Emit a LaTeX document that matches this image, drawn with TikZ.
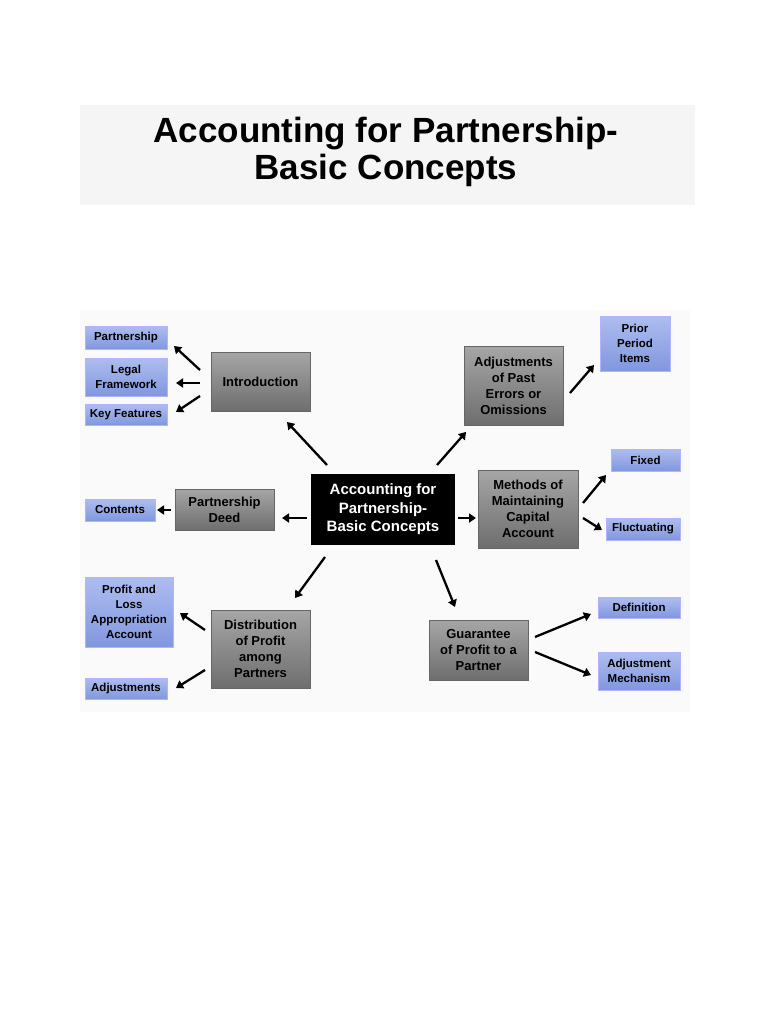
\documentclass[tikz,border=0pt]{standalone}
\usepackage{fontspec}
\setmainfont{Liberation Sans}
\usetikzlibrary{arrows.meta}
\definecolor{gtop}{HTML}{A6A6A6}
\definecolor{gbot}{HTML}{6E6E6E}
\definecolor{btop}{HTML}{AEBDF0}
\definecolor{bbot}{HTML}{8197DE}
\tikzset{
 gbox/.style={draw=gray!80!black,top color=gtop,bottom color=gbot,font=\bfseries\fontsize{13}{16}\selectfont,align=center,inner sep=0pt},
 bbox/.style={draw=blue!30,top color=btop,bottom color=bbot,font=\bfseries\fontsize{11.5}{15}\selectfont,align=center,inner sep=0pt},
 arr/.style={line width=2.3pt,-{Triangle[length=7pt,width=9pt]}},
}
\newcommand{\bx}[7]{\node[#1,minimum width=#4pt-#2pt,minimum height=#5pt-#3pt] (#6) at ({(#2+#4)/2},{(#3+#5)/2}) {#7};}
\begin{document}
\begin{tikzpicture}[x=1pt,y=-1pt]
\useasboundingbox[fill=white] (0,0) rectangle (768,1024);
\fill[black!4] (80,105) rectangle (695,205);
\fill[black!2] (80,310) rectangle (690,712);
\node[font=\bfseries\fontsize{35}{37}\selectfont,align=center] (title) at (386,152) {Accounting for Partnership-\\Basic Concepts};
\bx{bbox}{85}{326}{167}{349}{p1}{Partnership}
\bx{bbox}{85}{358}{167}{396}{p2}{Legal\\Framework}
\bx{bbox}{85}{404}{167}{425}{p3}{Key Features}
\bx{gbox}{211}{352}{310}{411}{intro}{Introduction}
\bx{bbox}{85}{499}{155}{521}{cont}{Contents}
\bx{gbox}{175}{489}{274}{530}{deed}{Partnership\\Deed}
\node[fill=black,text=white,font=\bfseries\fontsize{15}{18.5}\selectfont,align=center,minimum width=144pt,minimum height=71pt,inner sep=0pt] (c) at (383,509.5) {Accounting for\\Partnership-\\Basic Concepts};
\bx{gbox}{464}{346}{563}{425}{adj}{Adjustments\\of Past\\Errors or\\Omissions}
\bx{bbox}{600}{316}{670}{371}{prior}{Prior\\Period\\Items}
\bx{gbox}{478}{470}{578}{548}{meth}{Methods of\\Maintaining\\Capital\\Account}
\bx{bbox}{611}{449}{680}{471}{fixed}{Fixed}
\bx{bbox}{606}{518}{680}{540}{fluct}{Fluctuating}
\bx{bbox}{85}{577}{173}{647}{pl}{Profit and\\Loss\\Appropriation\\Account}
\bx{bbox}{85}{678}{167}{699}{adjs}{Adjustments}
\bx{gbox}{211}{610}{310}{688}{dist}{Distribution\\of Profit\\among\\Partners}
\bx{gbox}{429}{620}{528}{680}{guar}{Guarantee\\of Profit to a\\Partner}
\bx{bbox}{598}{597}{680}{618}{def}{Definition}
\bx{bbox}{598}{652}{680}{690}{mech}{Adjustment\\Mechanism}
\draw[arr] (200,370) -- (174,346);
\draw[arr] (200,383) -- (176,383);
\draw[arr] (200,396) -- (176,412);
\draw[arr] (327,465) -- (287,422);
\draw[arr] (437,465) -- (466,432);
\draw[arr] (570,393) -- (594,365);
\draw[arr] (307,518) -- (282,518);
\draw[arr] (171,510) -- (157,510);
\draw[arr] (458,518) -- (476,518);
\draw[arr] (583,503) -- (606,475);
\draw[arr] (583,518) -- (602,530);
\draw[arr] (325,557) -- (295,598);
\draw[arr] (205,630) -- (180,613);
\draw[arr] (205,670) -- (176,688);
\draw[arr] (436,560) -- (455,607);
\draw[arr] (535,637) -- (591,614);
\draw[arr] (535,652) -- (591,675);
\end{tikzpicture}
\end{document}
